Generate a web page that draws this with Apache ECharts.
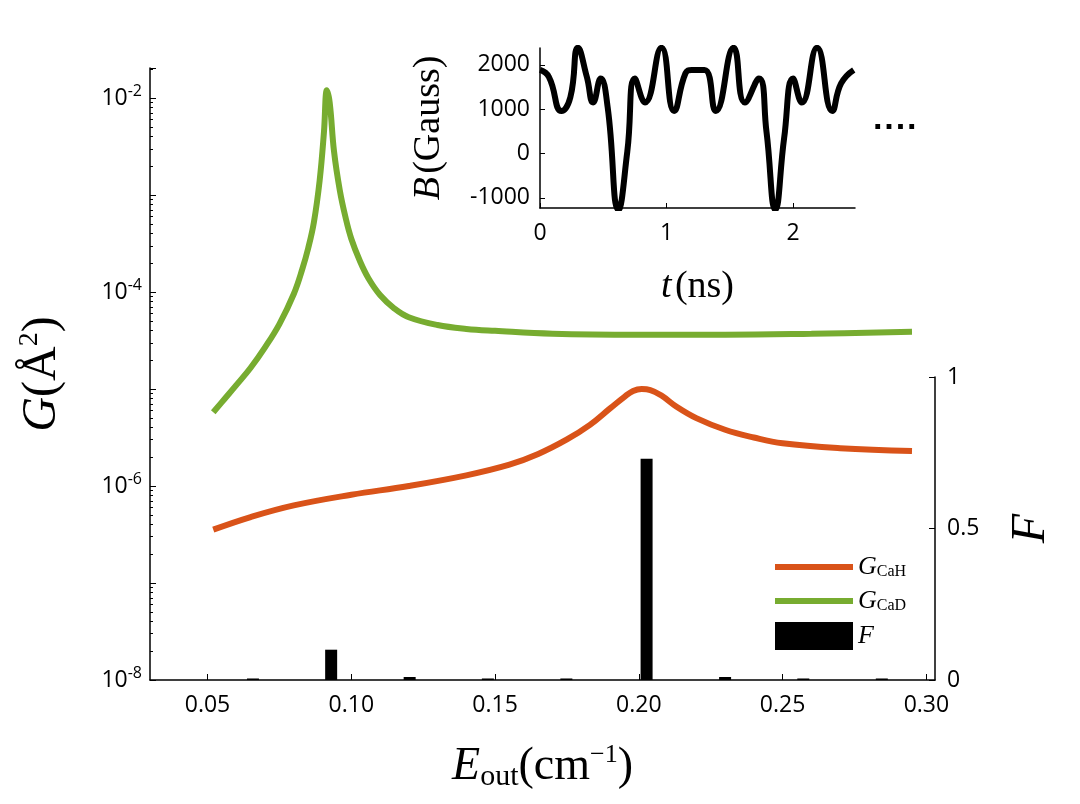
<!DOCTYPE html><html><head><meta charset="utf-8">
<script src="https://cdn.jsdelivr.net/npm/echarts@6/dist/echarts.min.js"></script>
<style>html,body{margin:0;background:#fff}#c{width:1080px;height:804px}</style></head><body><div id="c"></div><script>
const greenX=[0.052,0.056,0.06,0.065,0.07,0.075,0.08,0.083,0.085,0.087,0.089,0.0905,0.0915,0.0925,0.094,0.096,0.098,0.10,0.103,0.106,0.11,0.115,0.12,0.13,0.14,0.15,0.17,0.2,0.23,0.26,0.295];
const greenLog=[-5.24,-5.10,-4.96,-4.78,-4.57,-4.33,-4.02,-3.76,-3.55,-3.28,-2.85,-2.35,-1.92,-2.05,-2.55,-2.95,-3.23,-3.45,-3.68,-3.86,-4.03,-4.17,-4.26,-4.34,-4.38,-4.40,-4.43,-4.44,-4.44,-4.43,-4.41];
const orangeX=[0.052,0.065,0.08,0.10,0.12,0.14,0.155,0.165,0.175,0.183,0.19,0.195,0.198,0.201,0.204,0.208,0.213,0.22,0.23,0.24,0.25,0.27,0.295];
const orangeLog=[-6.45,-6.32,-6.20,-6.09,-6.00,-5.89,-5.78,-5.67,-5.52,-5.37,-5.20,-5.08,-5.02,-5.00,-5.01,-5.07,-5.18,-5.30,-5.42,-5.50,-5.56,-5.61,-5.64];
const barX=[0.0658,0.093,0.1203,0.1475,0.1748,0.2027,0.230,0.2572,0.2845];
const barF=[0.005,0.1,0.01,0.005,0.005,0.73,0.01,0.005,0.005];
const insetT=[0,0.07,0.17,0.24,0.30,0.37,0.42,0.48,0.535,0.62,0.69,0.75,0.83,0.96,1.06,1.15,1.2,1.30,1.39,1.53,1.62,1.73,1.79,1.86,1.93,2.0,2.07,2.19,2.31,2.38,2.48];
const insetB=[1885,1730,960,1270,2385,1730,1150,1690,1040,-1270,40,1690,1150,2385,960,1810,1885,1885,960,2385,1150,1690,500,-1270,350,1690,1150,2385,960,1580,1885];
const xTicks=[0.05,0.10,0.15,0.20,0.25,0.30];
const serif='"Liberation Serif","DejaVu Serif",serif';
const sans='"Open Sans","Noto Sans",sans-serif';
const chart=echarts.init(document.getElementById('c'));
chart.setOption({
animation:false,
grid:[{left:150,right:145,top:68,bottom:124},{left:150,right:145,top:377,bottom:124},{left:540,right:225,top:48,bottom:596}],
xAxis:[
{gridIndex:0,type:'value',min:0.03,max:0.303,axisLine:{lineStyle:{color:'#000',width:1.5}},splitLine:{show:false},
 axisTick:{customValues:xTicks,inside:true,length:6,lineStyle:{color:'#000'}},
 axisLabel:{customValues:xTicks,formatter:v=>v.toFixed(2),color:'#000',fontSize:23,fontFamily:sans,margin:14},
 name:'{i|E}{s|out}{r|(cm}{p|−1}{r|)}',nameLocation:'middle',nameGap:62,
 nameTextStyle:{rich:{i:{fontFamily:serif,fontStyle:'italic',fontSize:46},s:{fontFamily:serif,fontSize:30,verticalAlign:'bottom',padding:[18,0,0,0]},r:{fontFamily:serif,fontSize:46},p:{fontFamily:serif,fontSize:26,verticalAlign:'top',padding:[0,0,24,0]}}}},
{gridIndex:1,type:'value',min:0.03,max:0.303,show:false},
{gridIndex:2,type:'value',min:0,max:2.49,axisLine:{onZero:false,lineStyle:{color:'#000',width:1.5}},splitLine:{show:false},
 axisTick:{customValues:[0,1,2],inside:true,length:5,lineStyle:{color:'#000'}},axisLabel:{customValues:[0,1,2],color:'#000',fontSize:23,fontFamily:sans,margin:14},
 name:'{i|t} {r|(ns)}',nameLocation:'middle',nameGap:60,nameTextStyle:{rich:{i:{fontFamily:serif,fontStyle:'italic',fontSize:38},r:{fontFamily:serif,fontSize:38}}}}
],
yAxis:[
{gridIndex:0,type:'log',logBase:10,min:1e-8,max:Math.pow(10,-1.69),axisLine:{show:true,lineStyle:{color:'#000',width:1.5}},splitLine:{show:false},
 axisTick:{show:true,inside:true,length:6,lineStyle:{color:'#000'}},minorTick:{show:true,splitNumber:9,length:3,lineStyle:{color:'#000'}},
 axisLabel:{color:'#000',fontSize:23,fontFamily:sans,showMaxLabel:false,formatter:v=>{const e=Math.round(Math.log10(v));return e%2===0?'{b|10}{e|'+e+'}':'';},
  rich:{b:{fontSize:23,fontFamily:sans,color:'#000'},e:{fontSize:16,fontFamily:sans,color:'#000',verticalAlign:'top',padding:[0,0,14,0]}}},
 name:'{i|G}{r|(Å}{p|2}{r|)}',nameLocation:'middle',nameGap:82,nameRotate:90,
 nameTextStyle:{rich:{i:{fontFamily:serif,fontStyle:'italic',fontSize:48},r:{fontFamily:serif,fontSize:48},p:{fontFamily:serif,fontSize:28,verticalAlign:'top',padding:[0,0,24,0]}}}},
{gridIndex:1,type:'value',position:'right',min:0,max:1,interval:0.5,axisLine:{show:true,lineStyle:{color:'#000',width:1.5}},splitLine:{show:false},
 axisTick:{show:true,inside:true,length:6,lineStyle:{color:'#000'}},axisLabel:{color:'#000',fontSize:23,fontFamily:sans,margin:12,formatter:v=>v===0?'0':v===1?'1':'0.5'},
 name:'F',nameLocation:'middle',nameGap:72,nameRotate:90,nameTextStyle:{fontFamily:serif,fontStyle:'italic',fontSize:48,color:'#000'}},
{gridIndex:2,type:'value',min:-1230,max:2380,axisLine:{show:true,onZero:false,lineStyle:{color:'#000',width:1.5}},splitLine:{show:false},
 axisTick:{show:true,customValues:[-1000,0,1000,2000],inside:true,length:5,lineStyle:{color:'#000'}},
 axisLabel:{color:'#000',fontSize:23,fontFamily:sans,margin:10,customValues:[-1000,0,1000,2000],formatter:v=>String(v)},
 name:'{i|B} {r|(Gauss)}',nameLocation:'middle',nameGap:92,nameRotate:90,nameTextStyle:{rich:{i:{fontFamily:serif,fontStyle:'italic',fontSize:38},r:{fontFamily:serif,fontSize:38}}}}
],
legend:{orient:'vertical',left:770,top:549,itemWidth:78,itemHeight:28,itemGap:8,
 data:[{name:'GCaH',icon:'path://M0,11h78v6h-78z'},{name:'GCaD',icon:'path://M0,11h78v6h-78z'},{name:'F',icon:'rect'}],
 formatter:n=>n==='F'?'{i|F}':'{i|G}{s|'+n.slice(1)+'}',
 textStyle:{rich:{i:{fontFamily:serif,fontStyle:'italic',fontSize:26,color:'#000'},s:{fontFamily:serif,fontSize:16,color:'#000',verticalAlign:'bottom',padding:[10,0,0,0]}}}},
series:[
{name:'GCaH',type:'line',xAxisIndex:0,yAxisIndex:0,smooth:0.4,symbol:'none',lineStyle:{color:'#D95319',width:6},itemStyle:{color:'#D95319'},data:orangeX.map((x,i)=>[x,Math.pow(10,orangeLog[i])])},
{name:'GCaD',type:'line',xAxisIndex:0,yAxisIndex:0,smooth:0.4,symbol:'none',lineStyle:{color:'#77AC30',width:6},itemStyle:{color:'#77AC30'},data:greenX.map((x,i)=>[x,Math.pow(10,greenLog[i])])},
{name:'F',type:'bar',xAxisIndex:1,yAxisIndex:1,barWidth:12,itemStyle:{color:'#000'},data:barX.map((x,i)=>[x,barF[i]])},
{type:'line',xAxisIndex:2,yAxisIndex:2,smooth:0.5,symbol:'none',lineStyle:{color:'#000',width:6},data:insetT.map((t,i)=>[t,insetB[i]])}
],
graphic:[{type:'text',left:873,top:112,style:{text:'····',font:'bold 34px sans-serif',fill:'#000'}}]
});
</script></body></html>
